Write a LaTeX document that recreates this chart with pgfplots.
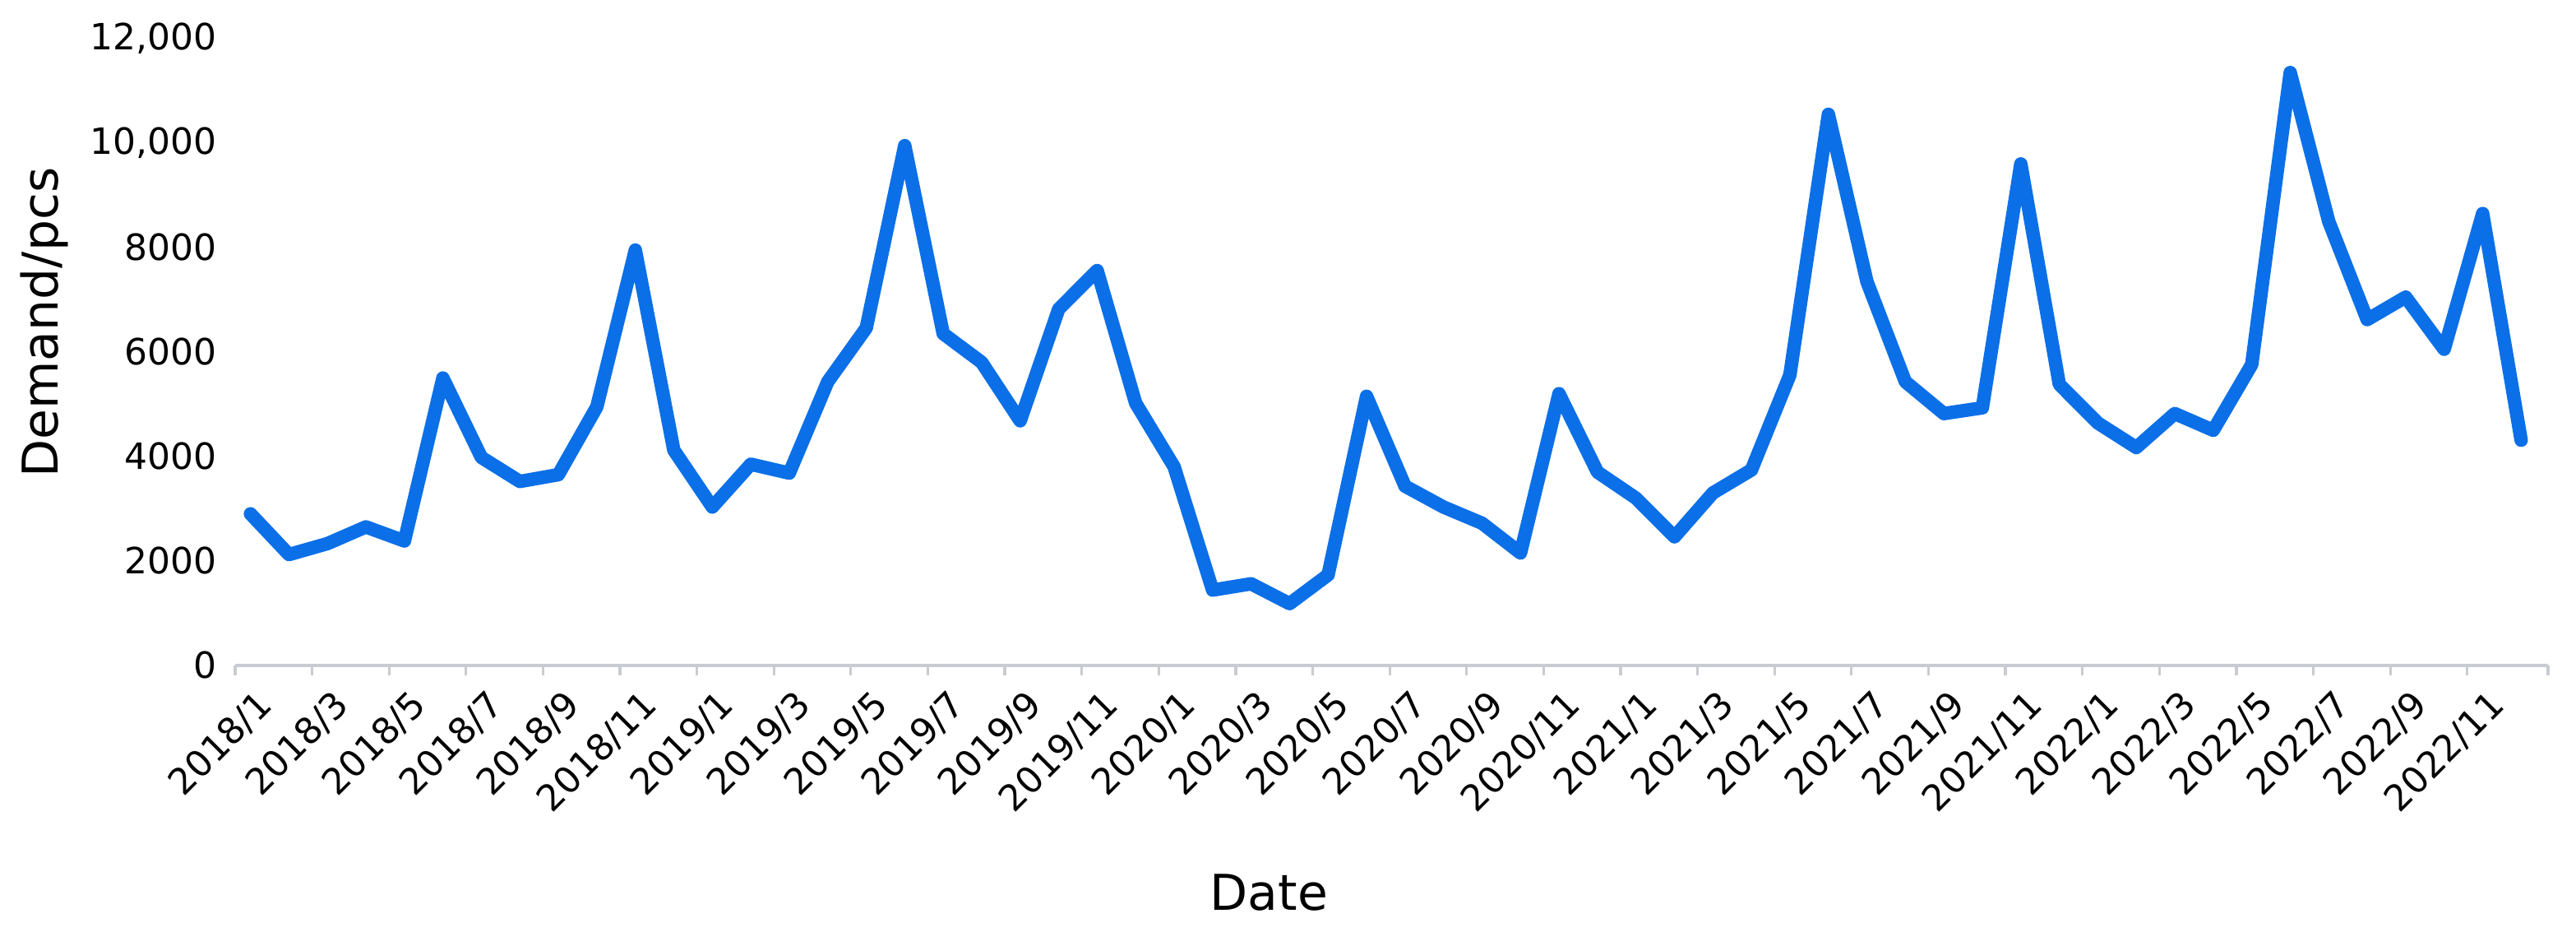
\documentclass[border=0pt]{standalone}
\usepackage{fontspec}
\setmainfont{DejaVu Sans}
\usepackage{pgfplots}
\pgfplotsset{compat=1.18}
\definecolor{lineblue}{HTML}{0B6FE8}
\definecolor{axisgray}{HTML}{C8CCD2}
\begin{document}
\begin{tikzpicture}
\begin{axis}[
  scale only axis, width=703.5pt, height=190.5pt,
  xmin=-0.4, xmax=59.7, ymin=0, ymax=12000,
  clip=false,
  scaled y ticks=false,
  axis x line*=bottom, axis y line*=left,
  y axis line style={draw=none},
  x axis line style={draw=axisgray, line width=1pt, -},
  tick align=outside,
  major tick length=3pt,
  xtick={-0.4,1.6,3.6,5.6,7.6,9.6,11.6,13.6,15.6,17.6,19.6,21.6,23.6,25.6,27.6,29.6,31.6,33.6,35.6,37.6,39.6,41.6,43.6,45.6,47.6,49.6,51.6,53.6,55.6,57.6},
  xticklabels={2018/1,2018/3,2018/5,2018/7,2018/9,2018/11,2019/1,2019/3,2019/5,2019/7,2019/9,2019/11,2020/1,2020/3,2020/5,2020/7,2020/9,2020/11,2021/1,2021/3,2021/5,2021/7,2021/9,2021/11,2022/1,2022/3,2022/5,2022/7,2022/9,2022/11},
  extra x ticks={59.7}, extra x tick labels={},
  xtick style={draw=axisgray, line width=0.8pt},
  extra x tick style={xtick style={draw=axisgray, line width=0.8pt}},
  ytick={0,2000,4000,6000,8000,10000,12000},
  yticklabels={0,2000,4000,6000,8000,{10,000},{12,000}},
  ytick style={draw=none},
  /pgf/number format/assume math mode=true,
  xticklabel style={font=\fontsize{11}{13}\selectfont, xshift=6pt, yshift=1pt, rotate=45, anchor=north east},
  yticklabel style={font=\fontsize{11}{13}\selectfont, xshift=1pt},
  xlabel={Date},
  ylabel={Demand/pcs},
  every axis x label/.style={at={(rel axis cs:0.447,0)}, anchor=center, yshift=-69pt, font=\fontsize{15}{18}\selectfont},
  every axis y label/.style={at={([xshift=-58pt]rel axis cs:0,0.547)}, anchor=center, rotate=90, font=\fontsize{15}{18}\selectfont},
]
\addplot[lineblue, line width=4.1pt, line join=round, line cap=round] coordinates {
(0,2900) (1,2120) (2,2330) (3,2650) (4,2380) (5,5500) (6,3980) (7,3520) (8,3650) (9,4950)
(10,7950) (11,4120) (12,3030) (13,3850) (14,3680) (15,5430) (16,6460) (17,9950) (18,6350) (19,5800)
(20,4680) (21,6820) (22,7560) (23,5020) (24,3800) (25,1440) (26,1560) (27,1180) (28,1730) (29,5150)
(30,3430) (31,3030) (32,2720) (33,2150) (34,5200) (35,3700) (36,3200) (37,2460) (38,3300) (39,3740)
(40,5560) (41,10550) (42,7350) (43,5430) (44,4820) (45,4930) (46,9600) (47,5380) (48,4640) (49,4170)
(50,4820) (51,4500) (52,5760) (53,11350) (54,8500) (55,6620) (56,7050) (57,6050) (58,8650) (59,4310)
};
\end{axis}
\pgfresetboundingbox
\path[use as bounding box] (-71.5pt,-81pt) rectangle (712pt,202.25pt);
\end{tikzpicture}
\end{document}
